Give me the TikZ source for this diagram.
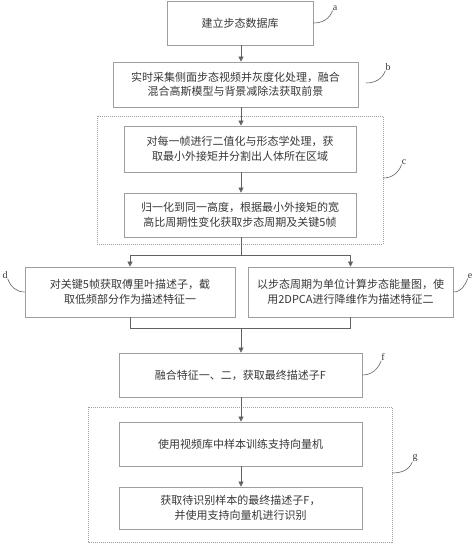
\documentclass[tikz,border=0pt]{standalone}
\usepackage{fontspec}
\setmainfont{Noto Sans CJK SC}
\newfontfamily\labfont{Liberation Serif}
\usetikzlibrary{arrows.meta}
\definecolor{boxline}{gray}{0.62}
\definecolor{txt}{gray}{0.22}
\definecolor{conn}{gray}{0.38}
\begin{document}
\begin{tikzpicture}[x=1pt,y=-1pt,
  box/.style={draw=boxline, line width=0.8pt, inner sep=0pt, align=center,
    text=txt, font=\fontsize{11}{14.5}\selectfont},
  grp/.style={draw=boxline, line width=0.8pt, dash pattern=on 1pt off 1pt},
  arr/.style={draw=conn, line width=0.6pt, -{Triangle[length=5pt,width=5pt]}},
  ln/.style={draw=conn, line width=0.6pt},
  lead/.style={draw=conn, line width=0.6pt},
  lab/.style={font=\labfont\fontsize{10}{12}\selectfont, text=txt, inner sep=0pt}]
\useasboundingbox (0,0) rectangle (474,544);
\fill[white] (0,0) rectangle (474,544);
\coordinate (ax) at (241,0);
% group frames
\draw[grp] (97,116) rectangle (383,244);
\draw[grp] (88,407) rectangle (392,542);
% boxes
\node[box, minimum width=146, minimum height=44] (a) at (240,23) {建立步态数据库};
\node[box, minimum width=245, minimum height=45] (b) at (235.5,84.5) {实时采集侧面步态视频并灰度化处理，融合\\混合高斯模型与背景减除法获取前景};
\node[box, minimum width=232, minimum height=46] (c1) at (240,149) {对每一帧进行二值化与形态学处理，获\\取最小外接矩并分割出人体所在区域};
\node[box, minimum width=232, minimum height=44] (c2) at (240,215) {归一化到同一高度，根据最小外接矩的宽\\高比周期性变化获取步态周期及关键5帧};
\node[box, minimum width=210, minimum height=50] (d) at (130,292) {对关键5帧获取傅里叶描述子，截\\取低频部分作为描述特征一};
\node[box, minimum width=205, minimum height=50] (e) at (350.5,292) {以步态周期为单位计算步态能量图，使\\用2DPCA进行降维作为描述特征二};
\node[box, minimum width=243, minimum height=44] (f) at (240.5,375) {融合特征一、二，获取最终描述子F};
\node[box, minimum width=243, minimum height=44] (g1) at (240.5,444) {使用视频库中样本训练支持向量机};
\node[box, minimum width=243, minimum height=42] (g2) at (240.5,508) {获取待识别样本的最终描述子F，\\并使用支持向量机进行识别};
% connectors
\coordinate (split) at (241,255);
\coordinate (join) at (241,328);
\draw[arr] (a.south -| ax) -- (b.north -| ax);
\draw[arr] (b.south -| ax) -- (c1.north -| ax);
\draw[arr] (c1.south -| ax) -- (c2.north -| ax);
\draw[ln] (c2.south -| ax) -- (split);
\draw[arr] (split) -| (d.north);
\draw[arr] (split) -| (e.north);
\draw[ln] (d.south) |- (join);
\draw[ln] (e.south) |- (join);
\draw[arr] (join) -- (f.north -| join);
\draw[arr] (f.south -| ax) -- (g1.north -| ax);
\draw[arr] (g1.south -| ax) -- (g2.north -| ax);
% labels and leaders
\node[lab] (la) at (335,8) {a};
\node[lab] (lb) at (388,67) {b};
\node[lab] (lc) at (404,162) {c};
\node[lab] (ld) at (5,275) {d};
\node[lab] (le) at (470,276) {e};
\node[lab] (lf) at (383,357) {f};
\node[lab] (lg) at (415,458) {g};
\draw[lead] (a.east) to[out=0,in=-110] (la.south west);
\draw[lead] (366,83) to[out=0,in=-110] (lb.south west);
\draw[lead] (383,178) to[out=0,in=-110] (lc.south west);
\draw[lead] (d.west) to[out=180,in=-70] (ld.south east);
\draw[lead] (e.east) to[out=0,in=-110] (le.south west);
\draw[lead] (f.east) to[out=0,in=-110] (lf.south west);
\draw[lead] (392,473) to[out=0,in=-110] (lg.south west);
\end{tikzpicture}
\end{document}
